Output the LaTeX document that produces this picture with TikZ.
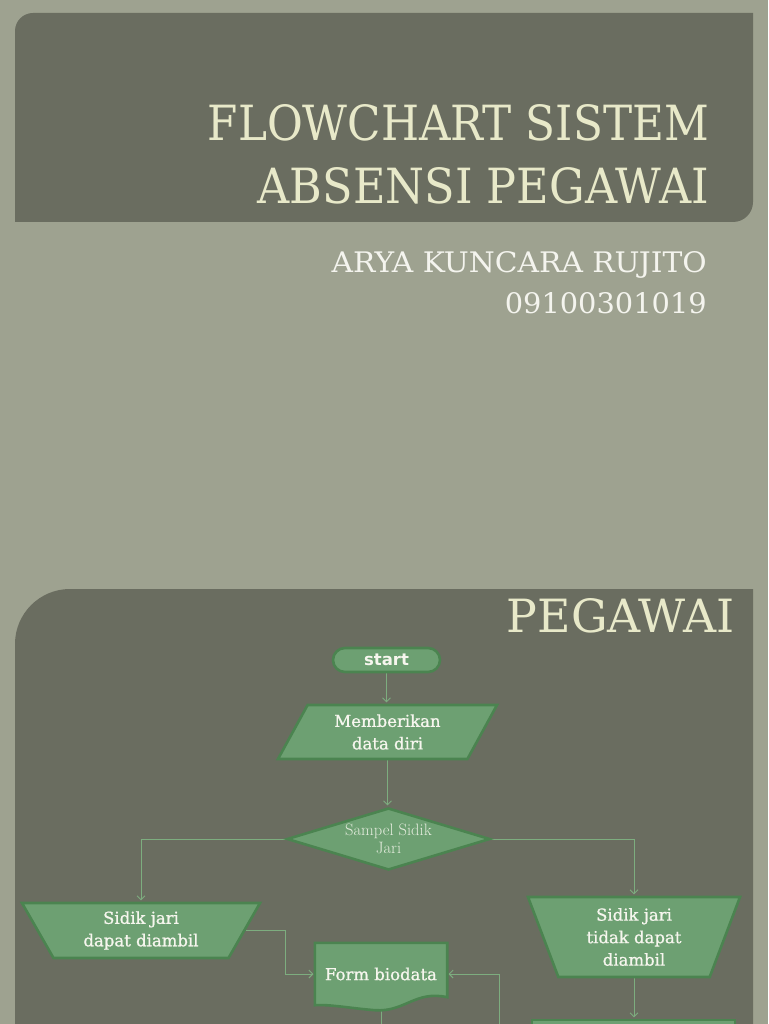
\documentclass[tikz,border=0pt]{standalone}
\usepackage{fontspec}
\usepackage{graphicx}
\usetikzlibrary{shapes.geometric,arrows.meta,calc}
\newfontfamily\slab{DejaVu Serif}
\newfontfamily\slabm[FakeBold=0.9]{DejaVu Serif}
\newfontfamily\sansb{DejaVu Sans}
\definecolor{outerbg}{HTML}{9EA290}
\definecolor{panelbg}{HTML}{6A6D60}
\definecolor{titlecol}{HTML}{E8E9C9}
\definecolor{subcol}{HTML}{F4F4EE}
\definecolor{nodefill}{HTML}{6DA072}
\definecolor{nodeline}{HTML}{4B8450}
\definecolor{conncol}{HTML}{7DAD7F}
\definecolor{nodetext}{HTML}{F6F6EE}
\definecolor{diatext}{HTML}{E4ECDD}
\pgfdeclarelayer{back}
\pgfdeclarelayer{conn}
\pgfdeclarelayer{docbg}
\pgfsetlayers{back,conn,docbg,main}
\begin{document}
\begin{tikzpicture}[x=1pt,y=-1pt,
  conn/.style={draw=conncol, line width=0.9pt},
  arr/.style={conn, -{Straight Barb[length=4pt,width=8pt]}, shorten >=1.3pt},
  fcbase/.style={draw=nodeline, fill=nodefill, line width=2.6pt, text=nodetext, align=center, inner sep=0pt,
    font=\slabm\fontsize{16.5}{22.5}\selectfont},
  pill/.style={fcbase, rectangle, rounded corners=12pt, minimum width=107pt, minimum height=24pt,
    font=\sansb\bfseries\fontsize{16.5}{16.5}\selectfont},
  para/.style={fcbase, trapezium, trapezium left angle=50, trapezium right angle=130,
    trapezium stretches body, minimum width=219pt, minimum height=54pt},
  decision/.style={fcbase, diamond, aspect=3.27, minimum width=203pt, minimum height=62pt,
    text=diatext, font=\rmfamily\fontsize{16.5}{18.5}\selectfont},
  trapl/.style={fcbase, trapezium, trapezium left angle=129.3, trapezium right angle=129.3,
    trapezium stretches body, minimum width=238pt, minimum height=55pt},
  trapr/.style={fcbase, trapezium, trapezium left angle=117.7, trapezium right angle=117.7,
    trapezium stretches body, minimum width=212pt, minimum height=80pt},
  docnode/.style={rectangle, draw=none, fill=none, minimum width=132pt, minimum height=62pt, inner sep=0pt,
    text=nodetext, font=\slabm\fontsize{16.5}{22.5}\selectfont},
  docshape/.style={draw=nodeline, fill=nodefill, line width=2.6pt},
  boxnode/.style={fcbase, rectangle, minimum width=203pt, minimum height=60pt},
  titletxt/.style={text=titlecol, inner sep=0pt, font=\slab},
  subtxt/.style={text=subcol, inner sep=0pt, font=\slab}
]
\useasboundingbox (0,0) rectangle (768,1024);

% background and panels
\begin{pgfonlayer}{back}
\fill[outerbg] (0,0) rectangle (768,1024);
\fill[panelbg] (15,222) -- (15,31) .. controls (15,21.06) and (23.06,13) .. (33,13) -- (753,13)
  -- (753,202) .. controls (753,213.04) and (744.04,222) .. (733,222) -- cycle;
\fill[panelbg] (15,1030) -- (15,644) .. controls (15,613.6) and (39.6,589) .. (70,589)
  -- (753,589) -- (753,1030) -- cycle;
\end{pgfonlayer}

% titles
\node[titletxt, anchor=base east] (t1) at (709,141) {\resizebox{501pt}{36pt}{FLOWCHART SISTEM}};
\node[titletxt, anchor=base east] (t2) at (709,204) {\resizebox{451pt}{36pt}{ABSENSI PEGAWAI}};
\node[subtxt, anchor=base east] (s1) at (707,272) {\resizebox{375pt}{21pt}{ARYA KUNCARA RUJITO}};
\node[subtxt, anchor=base east] (s2) at (707,313) {\resizebox{202pt}{21pt}{09100301019}};
\node[titletxt, anchor=base east] (t3) at (735,632) {\resizebox{228pt}{34pt}{PEGAWAI}};

% flowchart nodes
\node[pill] (start) at (386.5,660) {start};
\node[para] (mem) at (387.5,732) {Memberikan\\data diri};
\node[decision] (dia) at (388.5,839) {Sampel Sidik\\Jari};
\node[trapl] (left) at (141,930.5) {Sidik jari\\dapat diambil};
\node[trapr] (right) at (634,937) {Sidik jari\\tidak dapat\\diambil};
\node[docnode] (fb) at (381,974) {Form biodata};
\node[boxnode] (nx) at (633.5,1050) {};
\coordinate (rin) at (499,1040);
\coordinate (fbout) at (381,1040);

% document outline
\begin{pgfonlayer}{docbg}
\draw[docshape] (fb.north west) -- (fb.north east) -- ($(fb.south east)+(0,-8)$)
  .. controls ($(fb.south)+(34,-15)$) and ($(fb.south)+(24,7)$) .. ($(fb.south)+(-6,5)$)
  .. controls ($(fb.south)+(-31,3)$) and ($(fb.south)+(-51,-1)$) .. (fb.south west) -- cycle;
\end{pgfonlayer}

% connectors
\begin{pgfonlayer}{conn}
\draw[arr] (start.south) -- (start.south |- mem.north);
\draw[arr] (mem.south) -- (mem.south |- dia.north);
\draw[arr] (dia.west) -| (left.north);
\draw[arr] (dia.east) -| (right.north);
\draw[arr] (left.east) -- ++(39.5,0) |- (fb.west);
\draw[arr] (rin) |- (fb.east);
\draw[conn] (fb.center) -- (fbout);
\draw[arr] (right.south) -- (right.south |- nx.north);
\end{pgfonlayer}
\end{tikzpicture}
\end{document}
